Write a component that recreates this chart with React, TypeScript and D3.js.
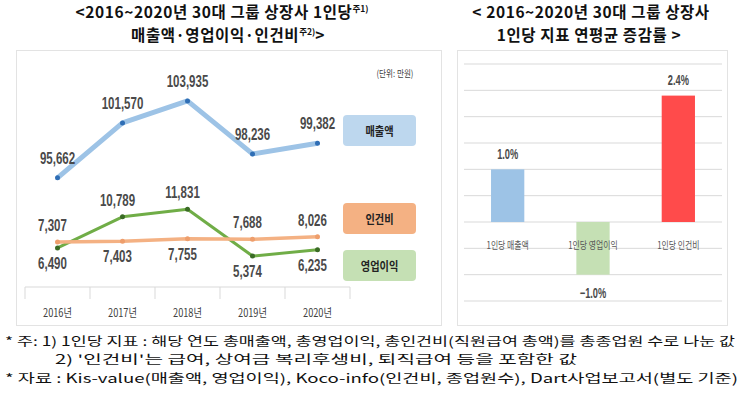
import { useEffect, useRef } from "react";
import * as d3 from "d3";

const years = ["2016년", "2017년", "2018년", "2019년", "2020년"];
const revenue = [95662, 101570, 103935, 98236, 99382];
const laborCost = [7307, 7403, 7755, 7688, 8026];
const opProfit = [6490, 10789, 11831, 5374, 6235];

const growthCats = ["1인당 매출액", "1인당 영업이익", "1인당 인건비"];
const growthVals = [1.0, -1.0, 2.4];
const growthColors = ["#9DC3E6", "#C5E0B4", "#FF4B4B"];
const growthTicks = [-1.5, -1, -0.5, 0, 0.5, 1, 1.5, 2, 2.5, 3];

const notes = [
  "* 주: 1) 1인당 지표 : 해당 연도 총매출액, 총영업이익, 총인건비(직원급여 총액)를 총종업원 수로 나눈 값",
  "2) '인건비'는 급여, 상여금 복리후생비, 퇴직급여 등을 포함한 값",
  "* 자료 : Kis-value(매출액, 영업이익), Koco-info(인건비, 종업원수), Dart사업보고서(별도 기준)",
];

const KR = "'Noto Sans CJK KR', 'Noto Sans', sans-serif";
const NUM = "'Liberation Sans', Arial, sans-serif";

export default function App() {
  const svgRef = useRef<SVGSVGElement>(null);

  useEffect(() => {
    document.body.style.margin = "0";
    const svg = d3.select(svgRef.current);
    svg.selectAll("*").remove();
    svg.append("rect").attr("width", 745).attr("height", 398).attr("fill", "#fff");

    // condensed text helper
    const label = (g: any, x: number, y: number, txt: string, size: number, sx: number, color = "#404040", weight = "normal", family = NUM) =>
      g.append("text")
        .attr("transform", `translate(${x},${y}) scale(${sx},1)`)
        .attr("text-anchor", "middle")
        .attr("dominant-baseline", "central")
        .attr("font-family", family)
        .attr("font-size", size)
        .attr("font-weight", weight)
        .attr("fill", color)
        .text(txt);

    // ---------- titles ----------
    const title = (tx: number, ty: number) =>
      svg.append("text").attr("x", tx).attr("y", ty).attr("text-anchor", "middle")
        .attr("font-family", KR).attr("font-weight", "bold").attr("font-size", 15.5)
        .attr("letter-spacing", 0.6).attr("fill", "#111");

    const t1 = title(222, 18);
    t1.append("tspan").text("<2016~2020년 30대 그룹 상장사 1인당");
    t1.append("tspan").attr("font-size", 8.5).attr("dy", -6).attr("letter-spacing", 0).text("주1)");
    const t2 = title(228, 41);
    t2.append("tspan").text("매출액·영업이익·인건비");
    t2.append("tspan").attr("font-size", 8.5).attr("dy", -6).attr("letter-spacing", 0).text("주2)");
    t2.append("tspan").attr("dy", 6).text(">");

    title(591, 18).text("< 2016~2020년 30대 그룹 상장사");
    title(589, 41).text("1인당 지표 연평균 증감률 >");

    // ---------- left panel: lines ----------
    svg.append("rect").attr("x", 16.5).attr("y", 50.5).attr("width", 425).attr("height", 275)
      .attr("fill", "#fff").attr("stroke", "#E3E3E3");

    const x = d3.scaleBand().domain(years).range([25, 350]);
    const cx = (i: number) => (x(years[i]) as number) + x.bandwidth() / 2;
    const yRev = d3.scaleLinear().domain([95000, 105000]).range([184, 91]);
    const yLow = d3.scaleLinear().domain([4000, 12000]).range([266, 208]);

    const left = svg.append("g");
    label(left, 395, 73, "(단위: 만원)", 9.5, 0.8, "#404040", "normal", KR);

    // axis
    left.append("line").attr("x1", 25).attr("x2", 350).attr("y1", 287).attr("y2", 287).attr("stroke", "#D9D9D9");
    [...years.map(y => x(y) as number), 350].forEach(b =>
      left.append("line").attr("x1", b).attr("x2", b).attr("y1", 287).attr("y2", 299).attr("stroke", "#D9D9D9"));
    years.forEach((y, i) => label(left, cx(i), 312, y, 11.5, 0.8, "#404040", "normal", KR));

    const series = [
      { vals: revenue, y: yRev, color: "#9DC3E6", width: 5, marker: "#2F6EB5" },
      { vals: opProfit, y: yLow, color: "#70AD47", width: 3, marker: "#3A6B25" },
      { vals: laborCost, y: yLow, color: "#F4B183", width: 3.5, marker: "#EE9E6C" },
    ];
    series.forEach(s => {
      const line = d3.line<number>().x((_, i) => cx(i)).y(d => s.y(d));
      left.append("path").attr("d", line(s.vals)).attr("fill", "none")
        .attr("stroke", s.color).attr("stroke-width", s.width).attr("stroke-linejoin", "round");
      s.vals.forEach((v, i) =>
        left.append("circle").attr("cx", cx(i)).attr("cy", s.y(v)).attr("r", 2.5).attr("fill", s.marker));
    });

    // data labels
    revenue.forEach((v, i) => label(left, cx(i), yRev(v) - 20, d3.format(",")(v), 16, 0.72, "#4A4A4A", "bold"));
    years.forEach((_, i) => {
      const pair = [laborCost[i], opProfit[i]];
      pair.forEach((v, j) => {
        const other = pair[1 - j];
        const dy = v >= other ? -17 : 15;
        label(left, cx(i) - 5, yLow(v) + dy, d3.format(",")(v), 16, 0.72, "#4A4A4A", "bold");
      });
    });

    // legend boxes
    const legend = [
      { name: "매출액", fill: "#BDD7EE", y: 115 },
      { name: "인건비", fill: "#F4B183", y: 203 },
      { name: "영업이익", fill: "#C5E0B4", y: 250 },
    ];
    legend.forEach(l => {
      left.append("rect").attr("x", 343).attr("y", l.y).attr("width", 73).attr("height", 31)
        .attr("rx", 4).attr("fill", l.fill);
      label(left, 379.5, l.y + 16, l.name, 12, 0.85, "#222", "bold", KR);
    });

    // ---------- right panel: bars ----------
    svg.append("rect").attr("x", 457.5).attr("y", 50.5).attr("width", 270).attr("height", 275)
      .attr("fill", "#fff").attr("stroke", "#E3E3E3");
    const right = svg.append("g");
    const xb = d3.scaleBand().domain(growthCats).range([465, 721]).paddingInner(0.61).paddingOuter(0.305);
    const yb = d3.scaleLinear().domain([-1.5, 3]).range([301, 64]);

    growthTicks.forEach(t =>
      right.append("line").attr("x1", 464).attr("x2", 722).attr("y1", yb(t)).attr("y2", yb(t))
        .attr("stroke", "#D9D9D9"));

    growthCats.forEach((c, i) => {
      const v = growthVals[i];
      right.append("rect").attr("x", xb(c) as number).attr("width", xb.bandwidth())
        .attr("y", yb(Math.max(0, v))).attr("height", Math.abs(yb(v) - yb(0)))
        .attr("fill", growthColors[i]);
    });
    growthCats.forEach((c, i) => {
      const bx = (xb(c) as number) + xb.bandwidth() / 2;
      label(right, bx, 244, c, 10.5, 0.75, "#595959", "normal", KR);
      const v = growthVals[i];
      label(right, bx, v >= 0 ? yb(v) - 15 : yb(v) + 19, d3.format(".1f")(v) + "%", 14, 0.66, "#4A4A4A", "bold");
    });

    // ---------- footnotes ----------
    const fn = svg.append("g").attr("font-family", KR).attr("font-size", 12.5).attr("fill", "#111");
    fn.append("text").attr("x", 5).attr("y", 346).attr("textLength", 730)
      .attr("lengthAdjust", "spacingAndGlyphs").text(notes[0]);
    fn.append("text").attr("x", 55).attr("y", 364).attr("textLength", 522)
      .attr("lengthAdjust", "spacingAndGlyphs").text(notes[1]);
    fn.append("text").attr("x", 5).attr("y", 383).attr("textLength", 733)
      .attr("lengthAdjust", "spacingAndGlyphs").text(notes[2]);
  }, []);

  return <svg ref={svgRef} width={745} height={398} style={{ display: "block" }} />;
}
